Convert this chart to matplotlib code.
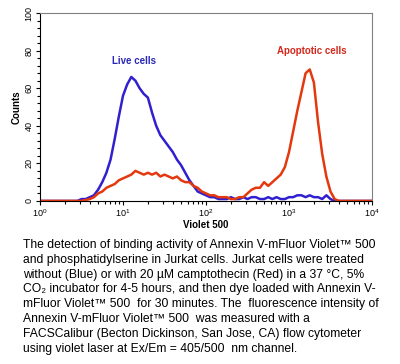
import numpy as np
import matplotlib
matplotlib.use("Agg")
import matplotlib.pyplot as plt
from matplotlib.ticker import LogLocator, MultipleLocator

plt.rcParams['font.family'] = ['Liberation Sans', 'DejaVu Sans']

# channel positions, log10 of Violet 500 intensity (0.05 decade bins)
log_intensity = [round(0.05 * i, 2) for i in range(81)]

# Live cells (blue)
live_counts = [0, 0, 0, 0, 0, 0, 0, 0, 0, 0,
               1, 1, 2, 3, 6, 10, 15, 22, 33, 45,
               56, 62, 66, 64, 60, 57, 55, 47, 40, 35,
               32, 29, 26, 22, 19, 15, 11, 8, 5, 4,
               3, 2, 2, 1, 1, 1, 2, 1, 1, 2,
               1, 2, 2, 1, 1, 2, 1, 2, 1, 1,
               2, 2, 3, 3, 2, 3, 2, 2, 1, 3,
               1, 0, 0, 0, 0, 0, 0, 0, 0, 0, 0]

# Apoptotic cells (red)
apop_counts = [0, 0, 0, 0, 0, 0, 0, 0, 0, 0,
               0, 0.5, 1, 2, 4, 5, 7, 8, 9, 11,
               12, 13, 14, 16, 15, 14, 15, 14, 15, 13,
               14, 13, 12, 13, 11, 10, 10, 8, 7, 5,
               4, 3, 3, 2, 2, 2, 1, 1, 2, 2,
               4, 6, 7, 7, 10, 8, 10, 12, 14, 18,
               26, 37, 48, 58, 68, 70, 63, 42, 25, 13,
               5, 1, 0, 0, 0, 0, 0, 0, 0, 0, 0]

intensity = np.power(10.0, log_intensity)

fig = plt.figure(figsize=(4, 3.64), dpi=100)
ax = fig.add_axes([0.1, 0.448, 0.83, 0.516])

ax.plot(intensity, live_counts, color='#3020d0', lw=1.8)
ax.plot(intensity, apop_counts, color='#e4380e', lw=1.8)

ax.set_xscale('log')
ax.set_xlim(1, 1e4)
ax.set_ylim(0, 100)
ax.xaxis.set_major_locator(LogLocator(base=10, numticks=5))
ax.xaxis.set_minor_locator(LogLocator(base=10, subs=np.arange(2, 10), numticks=20))
ax.yaxis.set_major_locator(MultipleLocator(20))
ax.yaxis.set_minor_locator(MultipleLocator(4))
ax.tick_params(which='major', direction='out', length=3, width=0.8, labelsize=6.5, pad=1.5)
ax.tick_params(which='minor', direction='out', length=2, width=0.8)
for lab in ax.get_yticklabels():
    lab.set_rotation(90)
    lab.set_va('center')

for side in ['top', 'right']:
    ax.spines[side].set_color('#808080')
    ax.spines[side].set_linewidth(0.8)

ax.set_ylabel('Counts', fontsize=7, fontweight='bold', labelpad=2)
ax.set_xlabel('Violet 500', fontsize=7, fontweight='bold', labelpad=1)

ax.text(13.5, 73, 'Live cells', color='#2a28b8', fontsize=7, fontweight='bold', ha='center')
ax.text(1900, 78, 'Apoptotic cells', color='#d4281c', fontsize=7, fontweight='bold', ha='center')

caption = [
    "The detection of binding activity of Annexin V-mFluor Violet\u2122 500",
    "and phosphatidylserine in Jurkat cells. Jurkat cells were treated",
    "without (Blue) or with 20 \u00b5M camptothecin (Red) in a 37 \u00b0C, 5%",
    "CO\u2082 incubator for 4-5 hours, and then dye loaded with Annexin V-",
    "mFluor Violet\u2122 500  for 30 minutes. The  fluorescence intensity of",
    "Annexin V-mFluor Violet\u2122 500  was measured with a",
    "FACSCalibur (Becton Dickinson, San Jose, CA) flow cytometer",
    "using violet laser at Ex/Em = 405/500  nm channel.",
]
for i, line in enumerate(caption):
    fig.text(23 / 400, 1 - (245 + 14.8 * i) / 364, line, fontsize=8.7, va='center', ha='left')

fig.savefig('out.png', dpi=100)
